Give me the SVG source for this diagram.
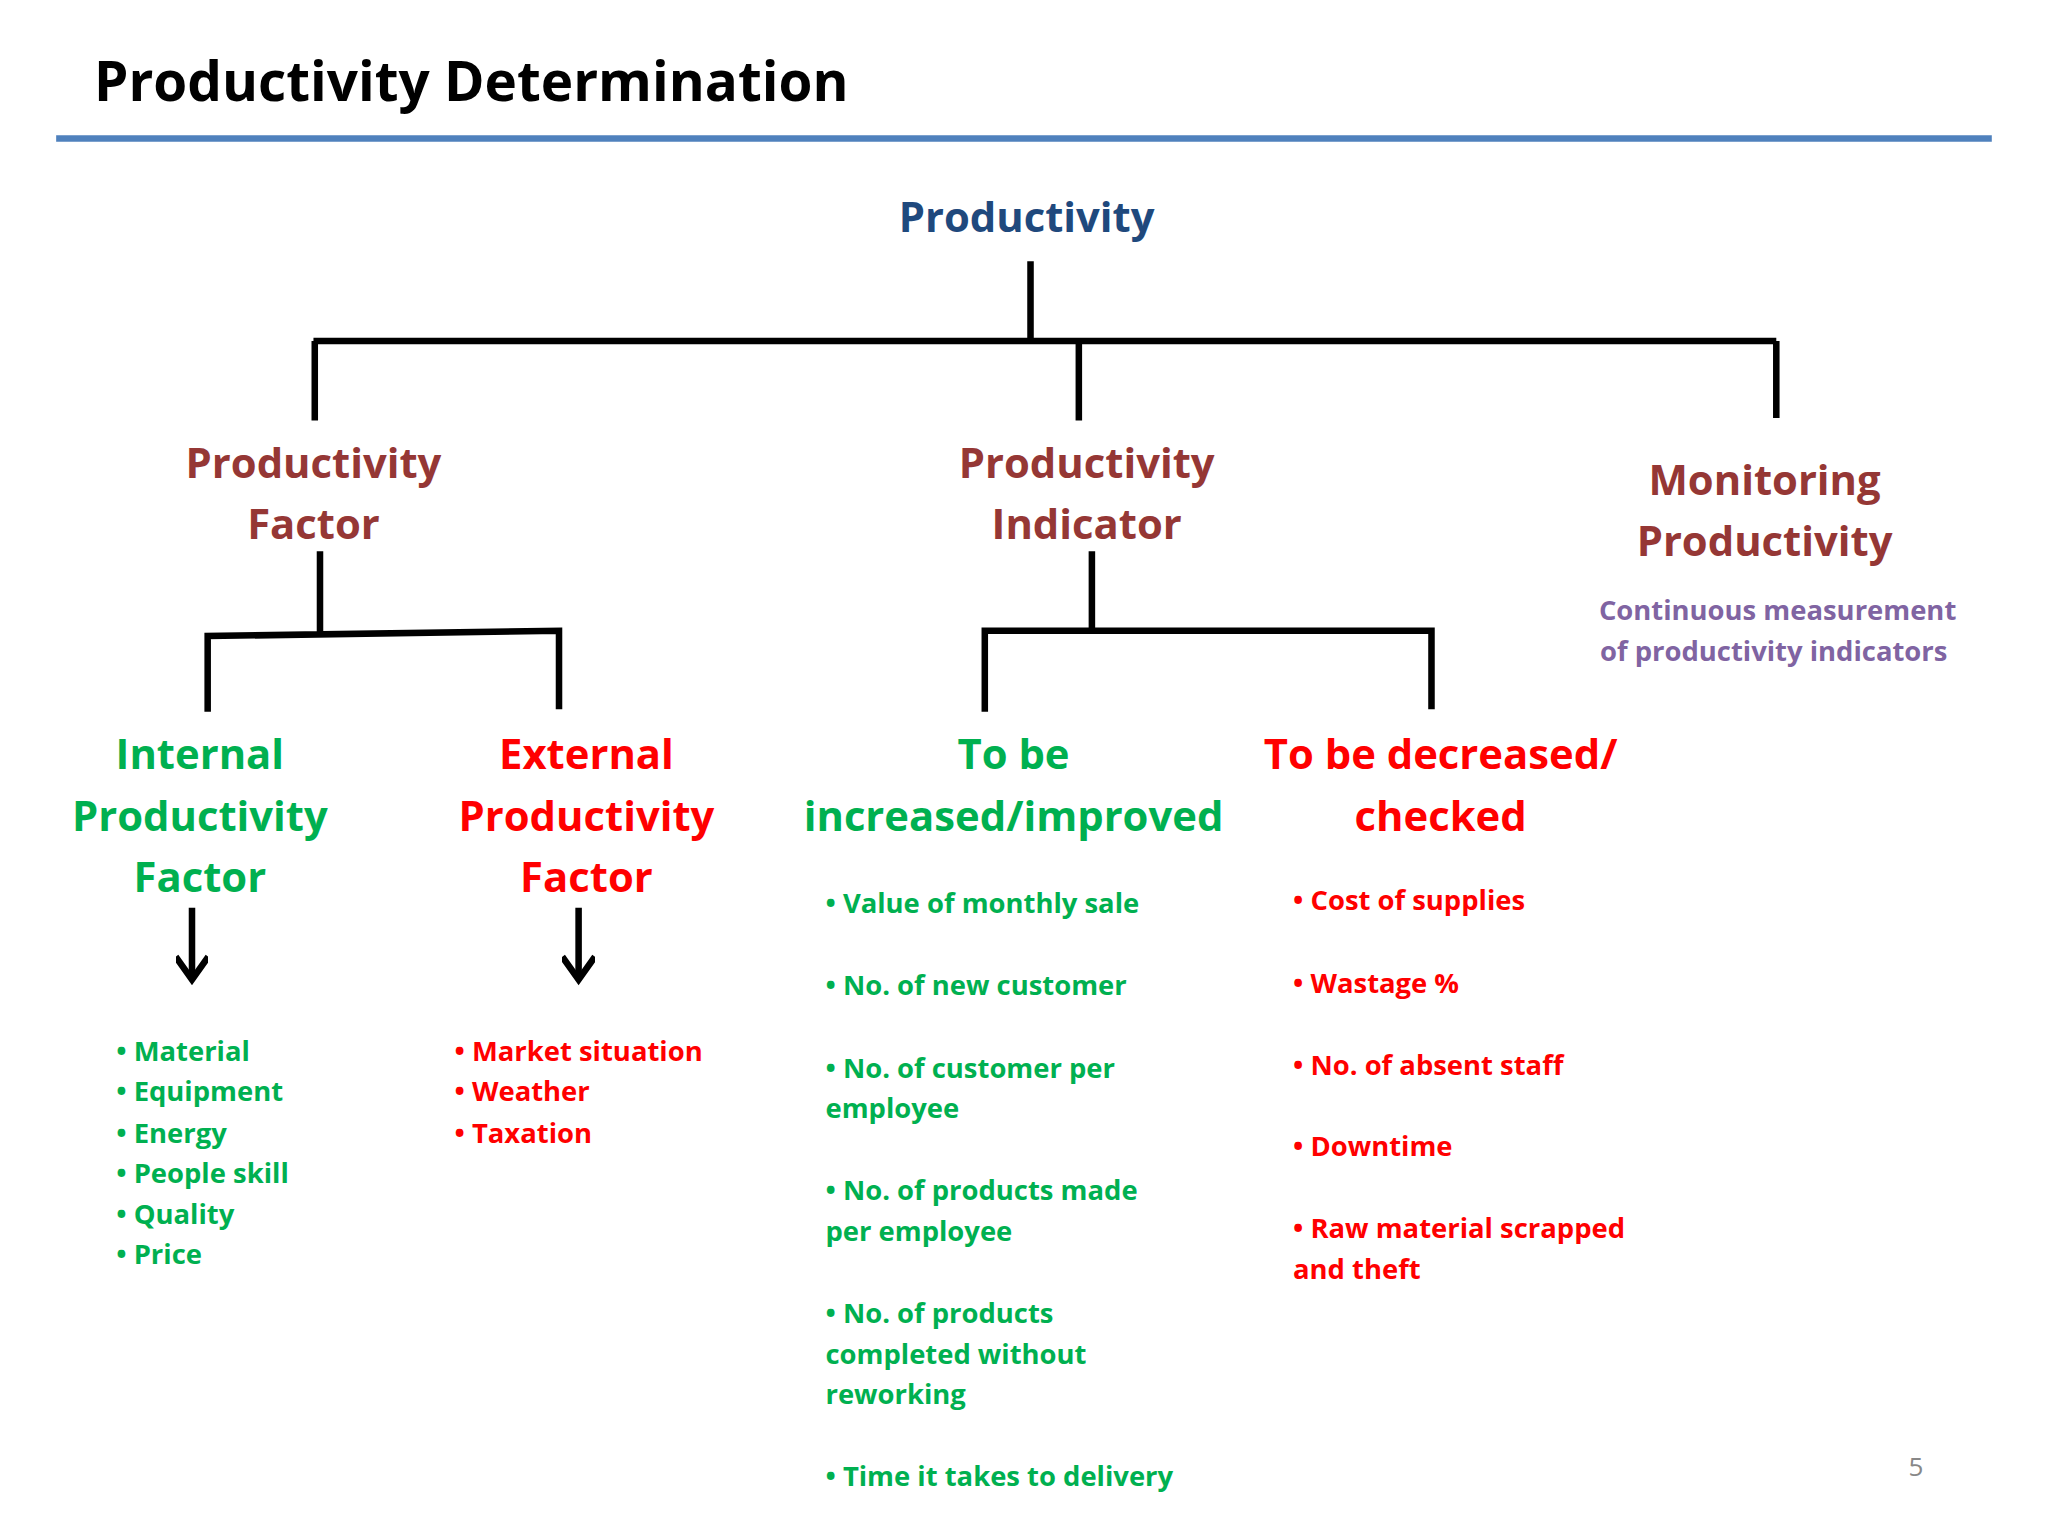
<svg xmlns="http://www.w3.org/2000/svg" width="2048" height="1536" viewBox="0 0 2048 1536">
<style>
text{font-family:"Open Sans","Liberation Sans",sans-serif;font-weight:bold}
.h{font-size:32px;text-anchor:middle}
.b{font-size:21px}
.g{fill:#00B050}.r{fill:#FF0000}.m{fill:#953735}
.ln{stroke:#000;stroke-width:5;fill:none}
</style>
<defs><marker id="ah" viewBox="0 0 10 10" refX="8" refY="5" markerWidth="5" markerHeight="5" orient="auto" markerUnits="strokeWidth"><path d="M1,0 L8,5 L1,10" fill="none" stroke="#000" stroke-width="2"/></marker></defs>
<rect width="2048" height="1536" fill="#fff"/>
<g transform="scale(1.3061)">
<text x="72" y="77" style="font-size:42px" fill="#000">Productivity Determination</text>
<line x1="43" y1="106" x2="1525" y2="106" stroke="#4F81BD" stroke-width="5"/>
<g id="connectors">
<path class="ln" d="M789 200V260M240 261H1360M241 261V322M826 261V322M1360 261V320"/>
<path class="ln" d="M245 422V485M159 545V487L428 483V543"/>
<path class="ln" d="M836 422V482M754 545V483H1096V543"/>
<line class="ln" x1="147" y1="695" x2="147" y2="750" marker-end="url(#ah)"/>
<line class="ln" x1="443" y1="695" x2="443" y2="750" marker-end="url(#ah)"/>
</g>
<g id="root"><text class="h" x="786" y="178" fill="#1F497D">Productivity</text></g>
<g id="pf"><text class="h m" x="240" y="366">Productivity</text><text class="h m" x="240" y="413">Factor</text></g>
<g id="pi"><text class="h m" x="832" y="366">Productivity</text><text class="h m" x="832" y="413">Indicator</text></g>
<g id="mp"><text class="h m" x="1351" y="379">Monitoring</text><text class="h m" x="1351" y="426">Productivity</text>
<text x="1361" y="475" style="font-size:21px;text-anchor:middle" fill="#8064A2">Continuous measurement</text>
<text x="1358" y="506" style="font-size:21px;text-anchor:middle" fill="#8064A2">of productivity indicators</text></g>
<g id="ipf"><text class="h g" x="153" y="589">Internal</text><text class="h g" x="153" y="636">Productivity</text><text class="h g" x="153" y="683">Factor</text>
<text class="b g" x="89" y="812">• Material</text><text class="b g" x="89" y="843">• Equipment</text><text class="b g" x="89" y="875">• Energy</text><text class="b g" x="89" y="906">• People skill</text><text class="b g" x="89" y="937">• Quality</text><text class="b g" x="89" y="968">• Price</text></g>
<g id="epf"><text class="h r" x="449" y="589">External</text><text class="h r" x="449" y="636">Productivity</text><text class="h r" x="449" y="683">Factor</text>
<text class="b r" x="348" y="812">• Market situation</text><text class="b r" x="348" y="843">• Weather</text><text class="b r" x="348" y="875">• Taxation</text></g>
<g id="inc"><text class="h g" x="776" y="589">To be</text><text class="h g" x="776" y="636">increased/improved</text>
<text class="b g" x="632" y="699">• Value of monthly sale</text>
<text class="b g" x="632" y="762">• No. of new customer</text>
<text class="b g" x="632" y="825">• No. of customer per</text><text class="b g" x="632" y="856">employee</text>
<text class="b g" x="632" y="919">• No. of products made</text><text class="b g" x="632" y="950">per employee</text>
<text class="b g" x="632" y="1013">• No. of products</text><text class="b g" x="632" y="1044">completed without</text><text class="b g" x="632" y="1075">reworking</text>
<text class="b g" x="632" y="1138">• Time it takes to delivery</text></g>
<g id="dec"><text class="h r" x="1103" y="589">To be decreased/</text><text class="h r" x="1103" y="636">checked</text>
<text class="b r" x="990" y="697">• Cost of supplies</text>
<text class="b r" x="990" y="760">• Wastage %</text>
<text class="b r" x="990" y="823">• No. of absent staff</text>
<text class="b r" x="990" y="885">• Downtime</text>
<text class="b r" x="990" y="948">• Raw material scrapped</text><text class="b r" x="990" y="979">and theft</text></g>
<text x="1467" y="1130" style="font-size:20px;font-weight:normal;text-anchor:middle" fill="#888">5</text>
</g>
</svg>
